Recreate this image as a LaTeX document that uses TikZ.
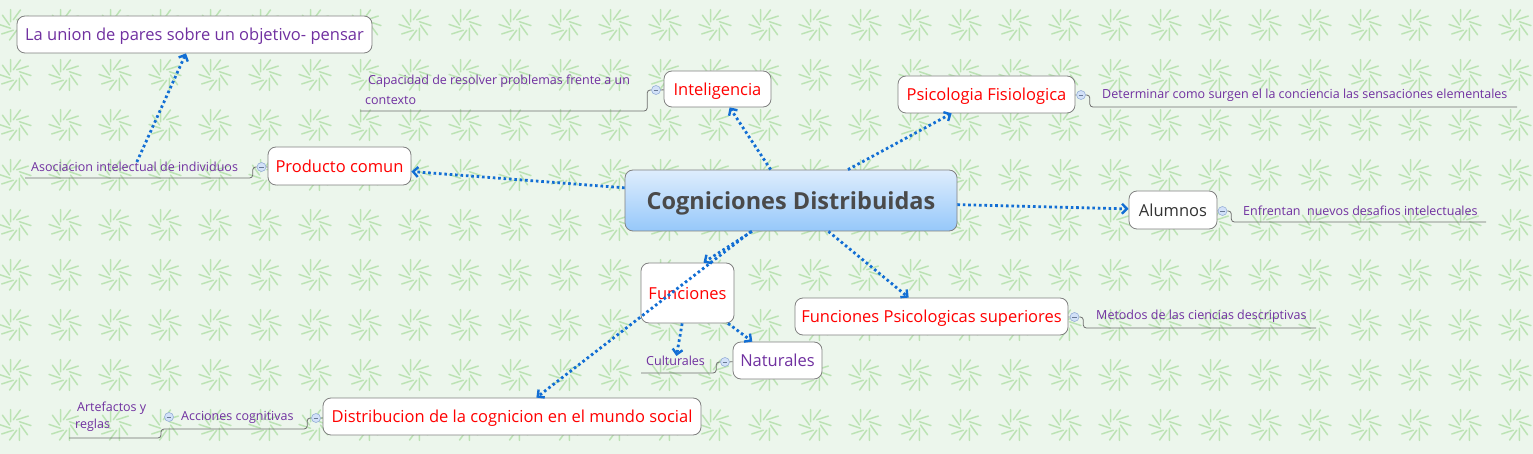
\documentclass[tikz,border=0pt]{standalone}
\usepackage{fontspec}
\setmainfont{Open Sans}
\usetikzlibrary{arrows.meta}
\definecolor{bg}{RGB}{236,246,236}
\definecolor{leafc}{RGB}{188,227,180}
\definecolor{connblue}{RGB}{18,110,212}
\definecolor{purp}{RGB}{112,48,160}
\definecolor{redt}{RGB}{255,0,0}
\definecolor{bord}{RGB}{128,128,128}
\definecolor{lline}{RGB}{110,110,110}
\definecolor{knobf}{RGB}{210,225,248}
\definecolor{knobd}{RGB}{150,175,215}
\definecolor{ctop}{RGB}{222,237,253}
\definecolor{cbot}{RGB}{150,200,250}
\definecolor{ctext}{RGB}{74,74,74}
\definecolor{atext}{RGB}{51,51,51}
\begin{document}
\begin{tikzpicture}[x=1pt,y=-1pt,
 topic/.style={draw=bord, line width=0.8pt, fill=white, rounded corners=8pt, inner sep=0pt, text depth=0pt, font=\fontsize{16.5}{19}\selectfont},
 red topic/.style={topic, text=redt},
 leaftext/.style={inner sep=0pt, anchor=west, text=purp, font=\fontsize{12.5}{15}\selectfont},
 conn/.style={draw=connblue, line width=2.8pt, dash pattern=on 2.6pt off 2.8pt, -{Straight Barb[length=5pt,width=10pt,line width=2.4pt]}},
 leafline/.style={draw=lline, line width=0.8pt, rounded corners=3pt},
 knob/.style={circle, minimum size=9pt, inner sep=0pt, fill=knobf, draw=knobd, line width=0.6pt,
   path picture={\draw[knobd!70!black, line width=0.6pt] ([xshift=-2.3pt]path picture bounding box.center) -- ([xshift=2.3pt]path picture bounding box.center);}},
 leaf/.style={draw=leafc, line width=1.5pt, line cap=round}
]
\useasboundingbox (0,0) rectangle (1533,454);
\fill[bg] (0,0) rectangle (1533,454);
\foreach \i in {0,...,30}{\foreach \j in {0,...,8}{
  \draw[leaf,shift={(15+50*\i,25+50*\j)}] foreach \a in {0,36,...,324}{(\a:5.5) -- (\a+38:16)};
}}

% topics
\node[topic, fill=none, top color=ctop, bottom color=cbot, minimum width=332pt, minimum height=61pt, text=ctext, font=\bfseries\fontsize{23.5}{28}\selectfont] (cen) at (791,200.5) {Cogniciones Distribuidas};
\node[topic, text=purp, minimum width=355pt, minimum height=37pt] (union) at (194.5,34.5) {La union de pares sobre un objetivo- pensar};
\node[red topic, minimum width=107pt, minimum height=36pt] (intel) at (717.5,89) {Inteligencia};
\node[red topic, minimum width=177pt, minimum height=37pt] (psf) at (986.5,94.5) {Psicologia Fisiologica};
\node[red topic, minimum width=143pt, minimum height=38pt] (prod) at (339.5,166) {Producto comun};
\node[topic, text=atext, minimum width=88pt, minimum height=38pt] (alum) at (1173,210) {Alumnos};
\node[red topic, minimum width=93pt, minimum height=60pt] (fun) at (687.5,293) {Funciones};
\node[red topic, minimum width=273pt, minimum height=37pt] (fps) at (931.5,316.5) {Funciones Psicologicas superiores};
\node[topic, text=purp, minimum width=89pt, minimum height=37pt] (nat) at (777.5,360.5) {Naturales};
\node[red topic, minimum width=378pt, minimum height=37pt] (dist) at (512,416.5) {Distribucion de la cognicion en el mundo social};

% leaf texts
\node[leaftext, align=left, font=\fontsize{12.5}{20}\selectfont] (cap) at (365,90) {\hspace*{3pt}Capacidad de resolver problemas frente a un\\contexto};
\node[leaftext] (asoc) at (31,167) {Asociacion intelectual de individuos};
\node[leaftext] (det) at (1102,95) {Determinar como surgen el la conciencia las sensaciones elementales};
\node[leaftext] (enf) at (1243,211) {Enfrentan\ \ nuevos desafios intelectuales};
\node[leaftext] (met) at (1096,316) {Metodos de las ciencias descriptivas};
\node[leaftext] (cult) at (646,361) {Culturales};
\node[leaftext] (acc) at (181,417) {Acciones cognitivas};
\node[leaftext, align=left, font=\fontsize{12.5}{17}\selectfont] (art) at (75,416.5) {\hspace*{2pt}Artefactos y\\reglas};

% knobs
\node[knob] (kcap) at (656,90) {};
\node[knob] (kasoc) at (261.5,167) {};
\node[knob] (kdet) at (1081,95) {};
\node[knob] (kenf) at (1222.5,211) {};
\node[knob] (kmet) at (1074.5,317) {};
\node[knob] (kcult) at (725,362) {};
\node[knob] (kacc) at (316,418) {};
\node[knob] (kart) at (169,417) {};

\coordinate (capL) at (360,111);
\coordinate (asocL) at (25,178);
\coordinate (detR) at (1517,107);
\coordinate (enfR) at (1486,222);
\coordinate (metR) at (1316,328);
\coordinate (cultL) at (641,373);
\coordinate (artL) at (69,438);
\coordinate (accL) at (161,429);

% leaf lines
\draw[leafline] (capL) -| ([xshift=-4pt]kcap.west) -- (kcap.west);
\draw[leafline] (kcap) -- (intel);
\draw[leafline] (asocL) -| ([xshift=-4pt]kasoc.west) -- (kasoc.west);
\draw[leafline] (kasoc) -- (prod);
\draw[leafline] (kdet.east) -- ([xshift=4pt]kdet.east) |- (detR);
\draw[leafline] (psf) -- (kdet);
\draw[leafline] (kenf.east) -- ([xshift=4pt]kenf.east) |- (enfR);
\draw[leafline] (alum) -- (kenf);
\draw[leafline] (kmet.east) -- ([xshift=4pt]kmet.east) |- (metR);
\draw[leafline] (fps) -- (kmet);
\draw[leafline] (cultL) -| ([xshift=-4pt]kcult.west) -- (kcult.west);
\draw[leafline] (kcult) -- (nat);
\draw[leafline] (artL) -| (accL) -| ([xshift=-4pt]kacc.west) -- (kacc.west);
\draw[leafline] (kacc) -- (dist);

% connectors
\draw[conn] (cen) -- (intel);
\draw[conn] (cen) -- (psf);
\draw[conn] (cen) -- (prod);
\draw[conn] (cen) -- (alum);
\draw[conn] ([xshift=-39pt]cen.south) -- ([xshift=16pt]fun.north);
\draw[conn] (cen) -- (dist);
\draw[conn] (cen) -- (fps);
\draw[conn] (fun) -- (cult);
\draw[conn] (fun) -- (nat);
\draw[conn] (asoc) -- (union);
\end{tikzpicture}
\end{document}
